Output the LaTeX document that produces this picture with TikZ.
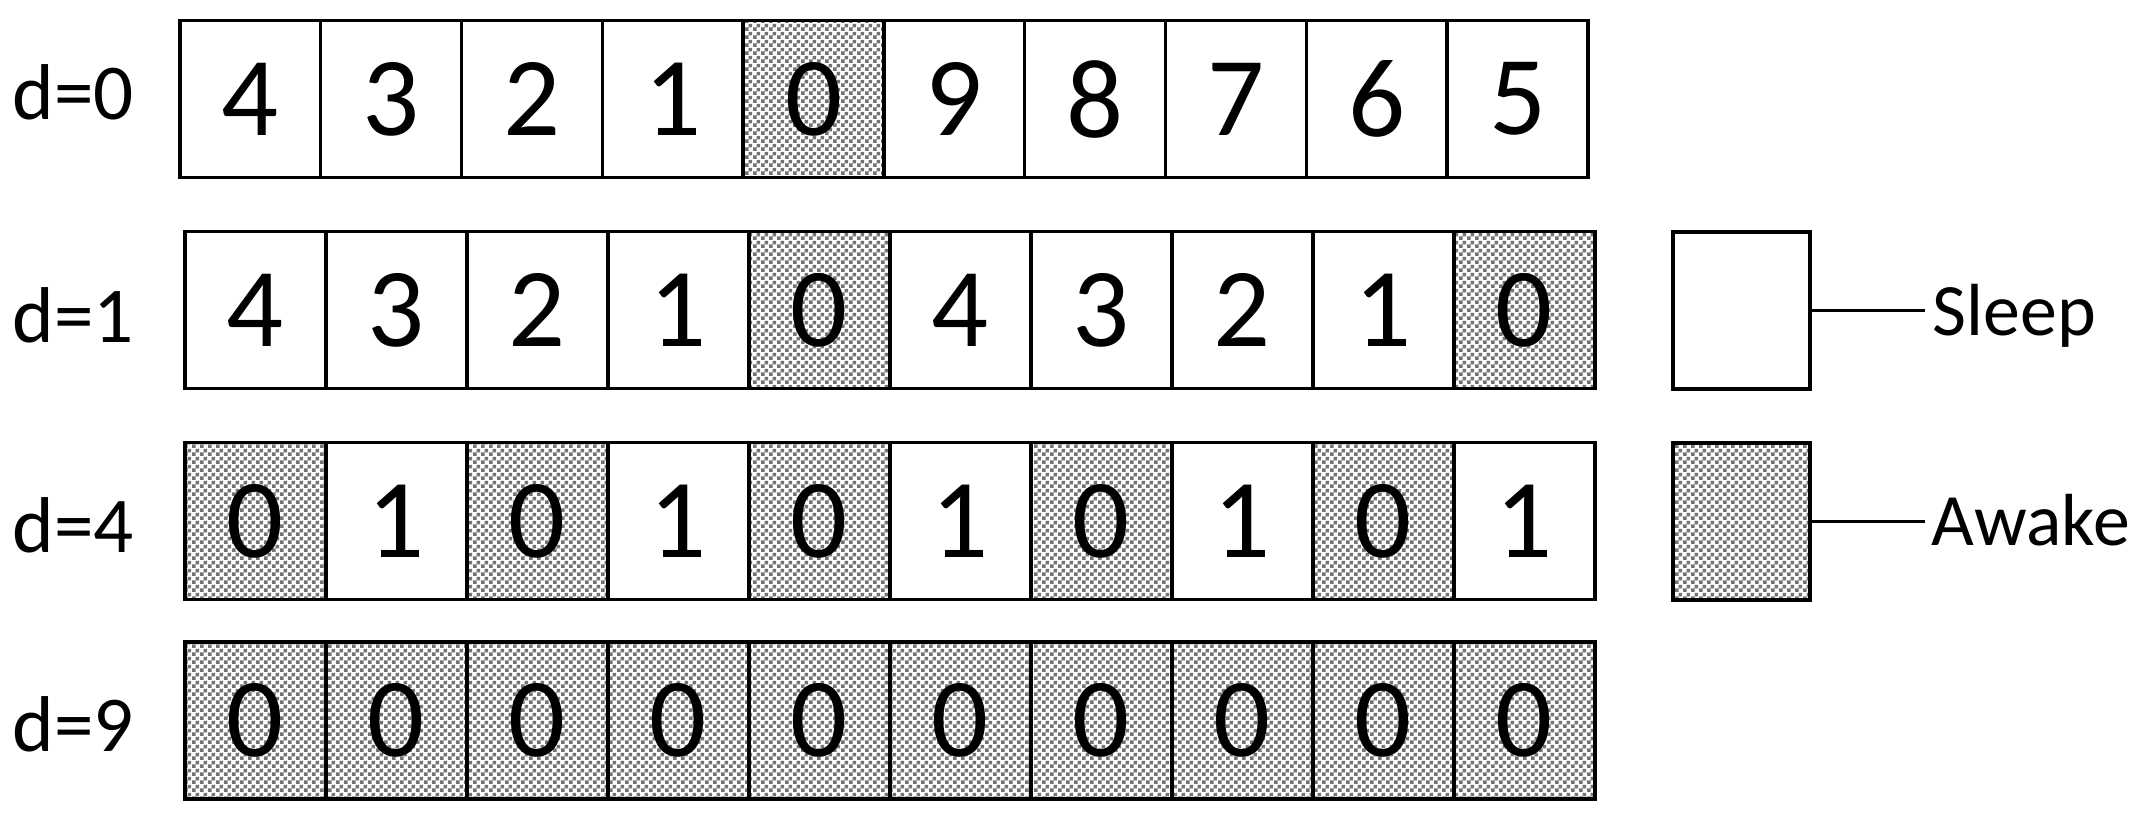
\documentclass[tikz,border=0pt]{standalone}
\usepackage{fontspec}
\setmainfont{Carlito}
\usetikzlibrary{positioning, patterns}

% fine grey checkerboard for the awake slots
\pgfdeclarepatternformonly{awakecheck}{\pgfpointorigin}{\pgfqpoint{2.28pt}{2.28pt}}{\pgfqpoint{2.28pt}{2.28pt}}{
    \pgfpathrectangle{\pgfpointorigin}{\pgfqpoint{1.14pt}{1.14pt}}
    \pgfpathrectangle{\pgfqpoint{1.14pt}{1.14pt}}{\pgfqpoint{1.14pt}{1.14pt}}
    \pgfusepath{fill}
}

\begin{document}
\begin{tikzpicture}[x=0.01cm, y=-0.01cm,
    cell/.style={draw, line width=1pt, minimum width=1.41cm, minimum height=1.57cm,
        inner sep=0pt, font=\fontsize{32}{36}\selectfont},
    sleep/.style={fill=white},
    awake/.style={preaction={fill=white}, pattern=awakecheck, pattern color=black!55},
    rowlabel/.style={font=\fontsize{22.5}{27}\selectfont},
    keylabel/.style={anchor=base west, inner sep=0pt, font=\fontsize{21}{25}\selectfont}]

    \useasboundingbox (0,0) rectangle (2141,824);

    % d=0
    \node[rowlabel] (d0) at (73, 92) {d=0};
    \foreach \v [count=\i] in {4,3,2,1,0,9,8,7,6,5} {
        \ifnum\v=0 \def\st{awake}\else\def\st{sleep}\fi
        \pgfmathsetmacro\cx{180+140.8*(\i-0.5)}
        \node[cell, \st] (r0c\i) at (\cx, 99) {\v};
    }

    % d=1
    \node[rowlabel] (d1) at (73, 315) {d=1};
    \foreach \v [count=\i] in {4,3,2,1,0,4,3,2,1,0} {
        \ifnum\v=0 \def\st{awake}\else\def\st{sleep}\fi
        \pgfmathsetmacro\cx{185+141*(\i-0.5)}
        \node[cell, \st] (r1c\i) at (\cx, 310) {\v};
    }

    % d=4
    \node[rowlabel] (d4) at (73, 525) {d=4};
    \foreach \v [count=\i] in {0,1,0,1,0,1,0,1,0,1} {
        \ifnum\v=0 \def\st{awake}\else\def\st{sleep}\fi
        \pgfmathsetmacro\cx{185+141*(\i-0.5)}
        \node[cell, \st] (r4c\i) at (\cx, 521) {\v};
    }

    % d=9
    \node[rowlabel] (d9) at (73, 724) {d=9};
    \foreach \v [count=\i] in {0,0,0,0,0,0,0,0,0,0} {
        \ifnum\v=0 \def\st{awake}\else\def\st{sleep}\fi
        \pgfmathsetmacro\cx{185+141*(\i-0.5)}
        \node[cell, \st] (r9c\i) at (\cx, 720.5) {\v};
    }

    % legend
    \node[cell, sleep, minimum width=1.37cm] (sleepkey) at (1741.5, 310.5) {};
    \node[cell, awake, minimum width=1.37cm] (awakekey) at (1741.5, 521.5) {};
    \node[keylabel] (sleeptxt) at (1932, 335) {Sleep};
    \node[keylabel] (awaketxt) at (1931, 545) {Awake};
    \draw[line width=1pt] (sleepkey.east) -- (sleepkey.east -| 1925,0);
    \draw[line width=1pt] (awakekey.east) -- (awakekey.east -| 1925,0);

\end{tikzpicture}
\end{document}
